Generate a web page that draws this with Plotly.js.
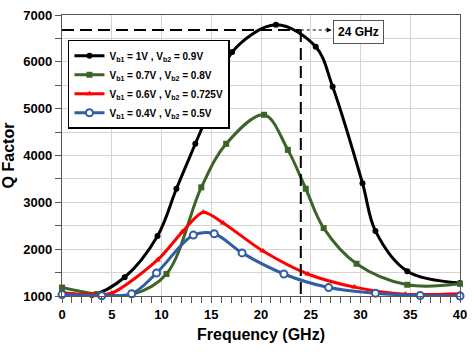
<!DOCTYPE html>
<html>
<head>
<meta charset="utf-8">
<script src="https://cdn.plot.ly/plotly-3.0.1.min.js"></script>
<style>html,body{margin:0;padding:0;background:#fff;}#chart{width:474px;height:355px;}</style>
</head>
<body>
<div id="chart"></div>
<script>
// Series data (Frequency in GHz, Q factor)
const blackX = [0, 3, 6.3, 9.6, 11.5, 13.4, 15.3, 17.1, 21.5, 25.5, 27.2, 30.2, 31.5, 34.7, 40];
const blackY = [1080, 1020, 1400, 2280, 3290, 4250, 5210, 6210, 6790, 6320, 5470, 3410, 2390, 1530, 1280];

const greenX = [0, 3.5, 7, 10.5, 14, 16.5, 20.3, 22.7, 24.5, 26.3, 29.6, 34.7, 40];
const greenY = [1180, 1040, 1030, 1470, 3320, 4250, 4870, 4120, 3290, 2450, 1690, 1240, 1260];

const redX = [0, 3, 5, 9.6, 12.1, 14.2, 16.2, 20.2, 24.7, 29.4, 34.5, 40];
const redY = [1070, 1030, 1060, 1770, 2370, 2790, 2560, 1960, 1470, 1190, 1040, 1050];

const blueX = [0, 4, 7, 9.5, 13.2, 15.3, 18.1, 22.3, 26.8, 31.5, 36, 40];
const blueY = [1030, 1005, 1050, 1490, 2300, 2330, 1920, 1470, 1180, 1060, 1010, 1000];

const seriesNames = [
  'V<sub>b1</sub> = 1V , V<sub>b2</sub> = 0.9V',
  'V<sub>b1</sub> = 0.7V , V<sub>b2</sub> = 0.8V',
  'V<sub>b1</sub> = 0.6V , V<sub>b2</sub> = 0.725V',
  'V<sub>b1</sub> = 0.4V , V<sub>b2</sub> = 0.5V'
];

const xTicks = [0, 5, 10, 15, 20, 25, 30, 35, 40];
const yTicks = [1000, 2000, 3000, 4000, 5000, 6000, 7000];

// marker of the 24 GHz point
const markFreq = 24;
const markQ = 6680;
const markLabel = '24 GHz';

const FONT = 'Liberation Sans, Arial, sans-serif';

function tr(x, y, name, color, symbol, filled, smooth) {
  return {
    x: x, y: y, name: name, type: 'scatter', mode: 'lines+markers',
    line: {color: color, width: 3, shape: 'spline', smoothing: smooth},
    marker: {symbol: symbol, size: filled ? 6 : 7, color: filled ? color : '#ffffff',
             line: {color: color, width: filled ? 0 : 2}},
    cliponaxis: false
  };
}

const data = [
  tr(blackX, blackY, seriesNames[0], '#000000', 'circle', true, 1),
  tr(greenX, greenY, seriesNames[1], '#3b6426', 'square', true, 1),
  tr(redX, redY, seriesNames[2], '#ff0000', 'triangle-up', true, 0.8),
  tr(blueX, blueY, seriesNames[3], '#2f5ea5', 'circle', false, 1)
];

const layout = {
  width: 474, height: 355,
  margin: {l: 62, r: 14, t: 15, b: 59},
  paper_bgcolor: '#ffffff', plot_bgcolor: '#ffffff',
  font: {family: FONT, size: 13, color: '#000', weight: 'bold'},
  showlegend: true,
  legend: {
    x: 0.015, y: 0.912, xanchor: 'left', yanchor: 'top',
    bgcolor: '#ffffff', bordercolor: '#000000', borderwidth: 1.5,
    font: {family: FONT, size: 10, color: '#000', weight: 'bold'},
    itemwidth: 30, tracegroupgap: 0
  },
  xaxis: {
    range: [0, 40], tickvals: xTicks, ticktext: xTicks.map(String),
    showgrid: true, gridcolor: '#d4d4d4', gridwidth: 1,
    showline: true, linecolor: '#555555', linewidth: 1.2, mirror: true,
    ticks: 'outside', ticklen: 6, tickcolor: '#555555',
    minor: {dtick: 1, ticks: 'outside', ticklen: 6, tickcolor: '#555555', showgrid: false},
    zeroline: false,
    tickfont: {family: FONT, size: 13, weight: 'bold'},
    title: {text: 'Frequency (GHz)', font: {family: FONT, size: 16, weight: 'bold'}, standoff: 8}
  },
  yaxis: {
    range: [1000, 7000], tickvals: yTicks, ticktext: yTicks.map(String),
    showgrid: true, gridcolor: '#d4d4d4', gridwidth: 1,
    showline: true, linecolor: '#555555', linewidth: 1.2, mirror: true,
    ticks: 'outside', ticklen: 6, tickcolor: '#555555',
    minor: {dtick: 500, ticks: 'outside', ticklen: 6, tickcolor: '#555555', showgrid: true, gridcolor: '#d4d4d4', gridwidth: 1},
    zeroline: false,
    tickfont: {family: FONT, size: 13, weight: 'bold'},
    title: {text: 'Q Factor', font: {family: FONT, size: 16, weight: 'bold'}, standoff: 10}
  },
  shapes: [
    {type: 'line', xref: 'x', yref: 'y', x0: 0, x1: markFreq, y0: markQ, y1: markQ,
     line: {color: '#000', width: 2, dash: '12px,6px'}},
    {type: 'line', xref: 'x', yref: 'y', x0: markFreq, x1: markFreq, y0: markQ, y1: 1000,
     line: {color: '#000', width: 2, dash: '12px,6px'}},
    {type: 'line', xref: 'x', yref: 'y', x0: markFreq, x1: 26.6, y0: markQ, y1: markQ,
     line: {color: '#000', width: 1, dash: 'dot'}}
  ],
  annotations: [
    {x: 27.1, y: markQ, xref: 'x', yref: 'y', text: '', showarrow: true,
     ax: -6, ay: 0, arrowhead: 2, arrowsize: 1, arrowwidth: 1, arrowcolor: '#000'},
    {x: 29.8, y: 6640, xref: 'x', yref: 'y', text: markLabel, showarrow: false,
     font: {family: FONT, size: 12, weight: 'bold', color: '#000'},
     bgcolor: '#ffffff', bordercolor: '#555555', borderwidth: 1, borderpad: 4}
  ]
};

Plotly.newPlot('chart', data, layout, {staticPlot: true, displayModeBar: false});
</script>
</body>
</html>
